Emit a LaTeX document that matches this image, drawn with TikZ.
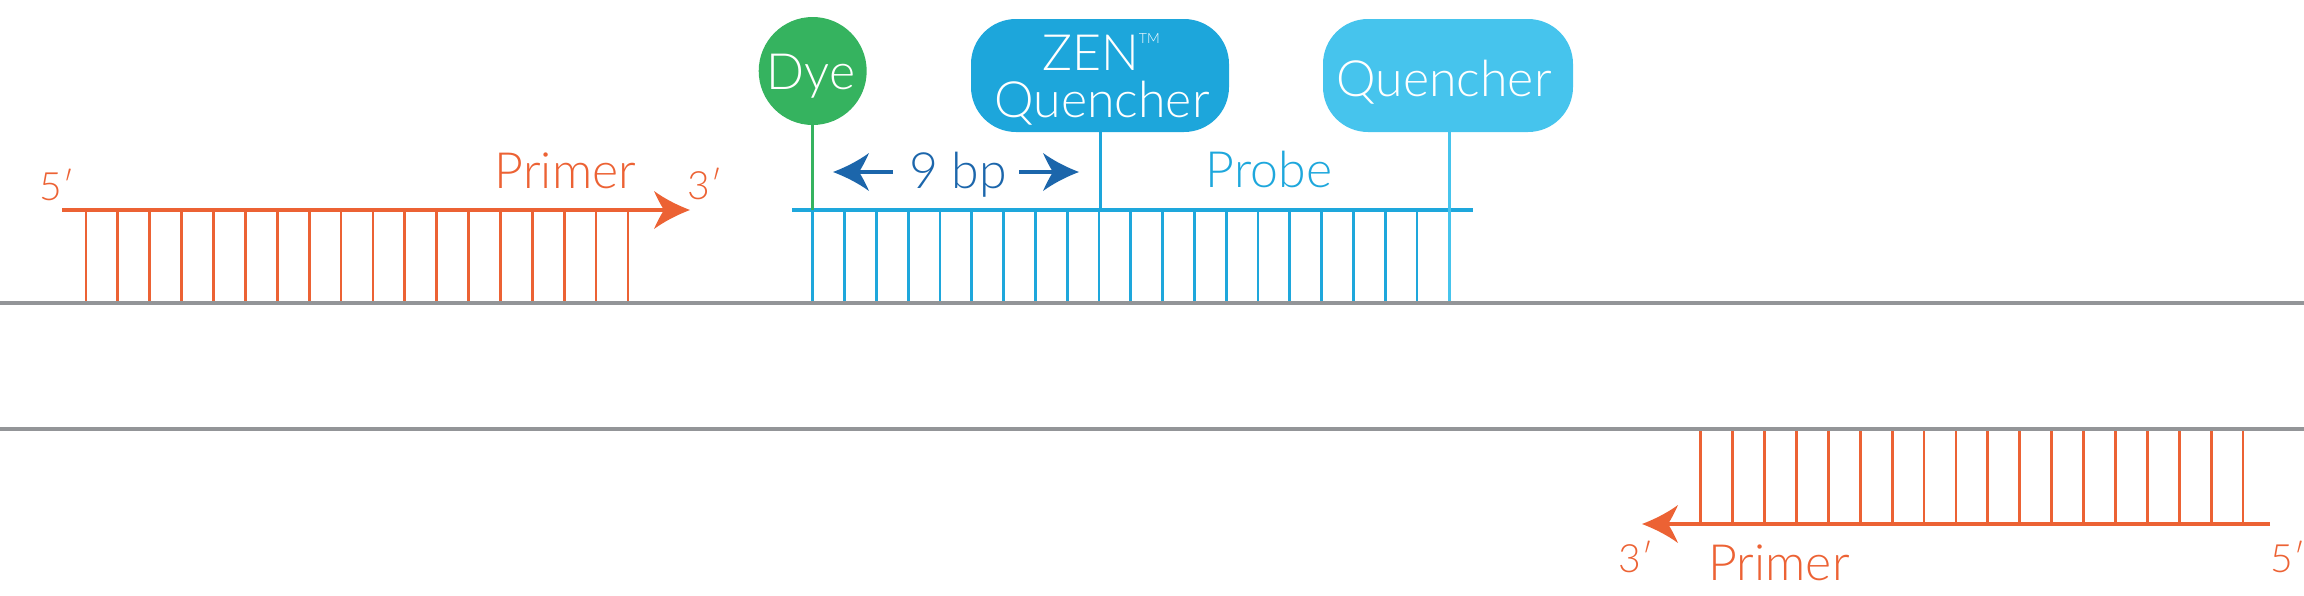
\documentclass[tikz,border=0pt]{standalone}
\usepackage{fontspec}
\setmainfont{Lato}[UprightFont={* Light}]
\usetikzlibrary{arrows.meta}
\definecolor{primerc}{HTML}{EC6234}
\definecolor{probec}{HTML}{1EA7DC}
\definecolor{zenc}{HTML}{1DA6DB}
\definecolor{quenchc}{HTML}{46C4ED}
\definecolor{dyec}{HTML}{35B35F}
\definecolor{bpc}{HTML}{1C66AB}
\definecolor{strandc}{HTML}{939598}
\pgfdeclarearrow{
  name = Swoop,
  setup code = {
    \pgfarrowssettipend{0pt}
    \pgfarrowssetbackend{-36pt}
    \pgfarrowssetlineend{-24pt}
    \pgfarrowshullpoint{0pt}{0pt}
    \pgfarrowshullpoint{-36pt}{19pt}
    \pgfarrowshullpoint{-36pt}{-19pt}
  },
  drawing code = {
    \pgfpathmoveto{\pgfqpoint{0pt}{0pt}}
    \pgfpathcurveto{\pgfqpoint{-12pt}{4.5pt}}{\pgfqpoint{-25pt}{11pt}}{\pgfqpoint{-36pt}{19pt}}
    \pgfpathcurveto{\pgfqpoint{-32pt}{10pt}}{\pgfqpoint{-28pt}{3pt}}{\pgfqpoint{-26pt}{0pt}}
    \pgfpathcurveto{\pgfqpoint{-28pt}{-3pt}}{\pgfqpoint{-32pt}{-10pt}}{\pgfqpoint{-36pt}{-19pt}}
    \pgfpathcurveto{\pgfqpoint{-25pt}{-11pt}}{\pgfqpoint{-12pt}{-4.5pt}}{\pgfqpoint{0pt}{0pt}}
    \pgfpathclose
    \pgfusepathqfill
  }
}
\begin{document}
\begin{tikzpicture}[x=1pt,y=-1pt,
  every node/.style={inner sep=0pt, outer sep=0pt},
  lbl/.style={font=\fontsize{50}{50}\selectfont, anchor=base},
  endlbl/.style={font=\fontsize{39}{39}\selectfont, text=primerc, anchor=base},
  strand/.style={line width=3.8pt, draw=strandc},
  backbone/.style={line width=4pt},
  basepair/.style={line width=2.8pt},
  stalk/.style={line width=3pt},
  headtip/.style={-Swoop},
  boxstyle/.style={rounded corners=45pt, minimum height=113pt}]
\useasboundingbox (0,0) rectangle (2304,595);

% ---------- top primer ----------
\foreach \i in {0,...,17}
  \draw[basepair, primerc] ({86+31.88*\i},210) -- ({86+31.88*\i},303);
\coordinate (p1s) at (62,210);
\coordinate (p1e) at (690,210);
\draw[backbone, primerc, headtip] (p1s) -- (p1e);
\node[endlbl] (p1five) at (57,200) {5′};
\node[endlbl] (p1three) at (705,199) {3′};
\node[lbl, text=primerc, anchor=base east] (p1lbl) at (636,188) {Primer};

% ---------- probe ----------
\foreach \i in {0,...,19}
  \draw[basepair, probec] ({812.7+31.8*\i},210) -- ({812.7+31.8*\i},303);
\coordinate (prs) at (792,210);
\coordinate (pre) at (1473,210);
\draw[backbone, probec] (prs) -- (pre);

% dye
\node[circle, fill=dyec, minimum size=108pt] (dye) at (812.7,71) {};
\node[lbl, text=white] (dyet) at (811,89) {Dye};
\coordinate (dyeb) at (812.7,210);
\draw[stalk, dyec] (dye.south) -- (dyeb);

% ZEN quencher
\node[boxstyle, fill=zenc, minimum width=258pt] (zen) at (1100,75.5) {};
\node[lbl, text=white] (zent1) at (1101,70) {ZEN\raisebox{27pt}{\fontsize{14}{14}\selectfont TM}};
\node[lbl, text=white] (zent2) at (1102,117) {Quencher};
\coordinate (zenb) at (1100,210);
\draw[stalk, zenc] (zen.south) -- (zenb);

% 3' quencher
\node[boxstyle, fill=quenchc, minimum width=250pt] (q) at (1448,75.5) {};
\node[lbl, text=white] (qt) at (1444,96) {Quencher};
\coordinate (qb) at (1449,303);
\draw[stalk, quenchc] (q.south -| qb) -- (qb);

% 9 bp
\node[lbl, text=bpc] (bp) at (958,188) {9 bp};
\coordinate (bpl1) at (893,172);
\coordinate (bpl2) at (833,172);
\coordinate (bpr1) at (1019,172);
\coordinate (bpr2) at (1079,172);
\draw[backbone, bpc, headtip] (bpl1) -- (bpl2);
\draw[backbone, bpc, headtip] (bpr1) -- (bpr2);

% Probe label
\node[lbl, text=probec] (probet) at (1269,187) {Probe};

% ---------- bottom primer ----------
\foreach \i in {0,...,17}
  \draw[basepair, primerc] ({1700.7+31.9*\i},429) -- ({1700.7+31.9*\i},524);
\coordinate (p2s) at (2270,524);
\coordinate (p2e) at (1642,524);
\draw[backbone, primerc, headtip] (p2s) -- (p2e);
\node[endlbl] (p2three) at (1636,572) {3′};
\node[lbl, text=primerc] (p2lbl) at (1779,580) {Primer};
\node[endlbl] (p2five) at (2288,572) {5′};

% ---------- template strands ----------
\coordinate (s1a) at (0,303);
\coordinate (s1b) at (2304,303);
\coordinate (s2a) at (0,429);
\coordinate (s2b) at (2304,429);
\draw[strand] (s1a) -- (s1b);
\draw[strand] (s2a) -- (s2b);
\end{tikzpicture}
\end{document}
